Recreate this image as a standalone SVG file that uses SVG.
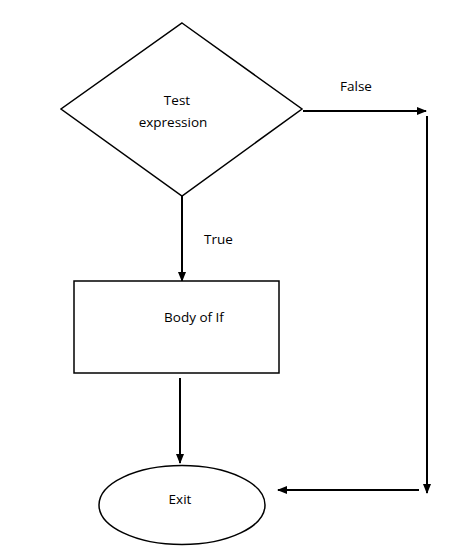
<svg xmlns="http://www.w3.org/2000/svg" width="474" height="553" viewBox="0 0 474 553">
<style>
.shape{fill:#fff;stroke:#000;stroke-width:1.5}
.conn{fill:none;stroke:#000;stroke-width:2}
text{font-family:"Open Sans","Liberation Sans",sans-serif;font-size:13.5px;fill:#000}
</style>
<defs>
<marker id="ah" markerWidth="10" markerHeight="10" refX="9" refY="5" orient="auto" markerUnits="userSpaceOnUse">
<path d="M0,1 L10,5 L0,9 Z" fill="#000"/>
</marker>
</defs>
<rect width="474" height="553" fill="#fff"/>
<g id="connectors">
<line class="conn" x1="303" y1="111" x2="426" y2="111" marker-end="url(#ah)"/>
<line class="conn" x1="427" y1="116" x2="427" y2="493" marker-end="url(#ah)"/>
<line class="conn" x1="419" y1="490" x2="278" y2="490" marker-end="url(#ah)"/>
<line class="conn" x1="182" y1="196" x2="182" y2="281" marker-end="url(#ah)"/>
<line class="conn" x1="180" y1="378" x2="180" y2="463" marker-end="url(#ah)"/>
<text x="340" y="91">False</text>
<text x="204" y="244">True</text>
</g>
<g id="test">
<polygon class="shape" points="182,23 302,109 182,196 61,109"/>
<text x="177" y="105" text-anchor="middle">Test</text>
<text x="173" y="127" text-anchor="middle">expression</text>
</g>
<g id="body">
<rect class="shape" x="74" y="281" width="205" height="92"/>
<text x="194" y="322" text-anchor="middle">Body of If</text>
</g>
<g id="exit">
<ellipse class="shape" cx="182" cy="505" rx="83" ry="39.5"/>
<text x="180" y="504" text-anchor="middle">Exit</text>
</g>
</svg>
